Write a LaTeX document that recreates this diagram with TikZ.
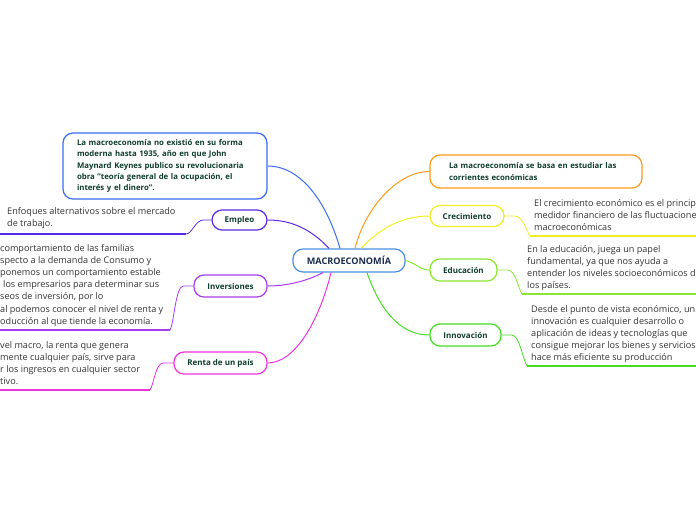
\documentclass[tikz,border=0pt]{standalone}
\usepackage{fontspec}
\setmainfont{Open Sans}
\definecolor{cblue}{HTML}{3A6CF4}
\definecolor{cindigo}{HTML}{5A2BE6}
\definecolor{cviolet}{HTML}{A93BEF}
\definecolor{cmagenta}{HTML}{EE33DD}
\definecolor{corange}{HTML}{FF9A1A}
\definecolor{cyellow}{HTML}{EEEE22}
\definecolor{clime}{HTML}{88E633}
\definecolor{cgreen}{HTML}{44DD22}
\definecolor{ccentre}{HTML}{4A8FE0}
\definecolor{labelgreen}{HTML}{0F3D2E}
\definecolor{navy}{HTML}{1C2B4E}
\definecolor{bodygray}{HTML}{333333}
\begin{document}
\begin{tikzpicture}[x=1pt, y=-1pt,
  topic/.style={draw, line width=1.2pt, rounded corners=10pt, fill=white,
    inner sep=0pt, align=center, text=labelgreen,
    font=\fontsize{8}{10}\selectfont\bfseries},
  bigtopic/.style={topic, align=left, inner xsep=14pt,
    font=\fontsize{7.8}{11.4}\selectfont\bfseries},
  note/.style={anchor=north west, inner sep=0pt, align=left, text=bodygray,
    font=\fontsize{9.1}{12.2}\selectfont},
  branch/.style={line width=1pt},
  under/.style={line width=1.8pt}]

\useasboundingbox (0,0) rectangle (696,520);

% centre
\node[topic, draw=ccentre, text=navy, minimum width=112pt, minimum height=23pt,
  font=\fontsize{9.1}{10}\selectfont\bfseries] (macro) at (349,260.5) {MACROECONOMÍA};

% left side
\node[bigtopic, draw=cblue, minimum width=204pt, minimum height=66pt, text width=176pt]
  (hist) at (165,166) {La macroeconomía no existió en su forma\\
  moderna hasta 1935, año en que John\\
  Maynard Keynes publico su revolucionaria\\
  obra "teoría general de la ocupación, el\\
  interés y el dinero".};
\node[topic, draw=cindigo, minimum width=55pt, minimum height=20pt] (empleo) at (239.5,220) {Empleo};
\node[topic, draw=cviolet, minimum width=73pt, minimum height=22pt] (inver) at (230.5,286) {Inversiones};
\node[topic, draw=cmagenta, minimum width=93pt, minimum height=22pt] (renta) at (220.5,363) {Renta de un país};

% right side
\node[bigtopic, draw=corange, minimum width=212pt, minimum height=33pt, text width=174pt,
  inner xsep=19pt] (basa) at (536,171.5) {La macroeconomía se basa en estudiar las\\
  corrientes económicas};
\node[topic, draw=cyellow, minimum width=74pt, minimum height=21pt] (crec) at (467,216) {Crecimiento};
\node[topic, draw=clime, minimum width=67pt, minimum height=22pt] (edu) at (463.5,270) {Educación};
\node[topic, draw=cgreen, minimum width=71pt, minimum height=22pt] (innov) at (465.5,335) {Innovación};

% branches from the centre
\draw[branch, corange] ([xshift=6pt]macro.north) .. controls (366,205) and (400,171) .. (basa.west);
\draw[branch, cyellow] ([xshift=12pt]macro.north) .. controls (382,226) and (405,216) .. (crec.west);
\draw[branch, cblue] ([xshift=-9pt]macro.north) .. controls (326,200) and (300,166) .. (hist.east);
\draw[branch, cindigo] ([xshift=-20pt]macro.north) .. controls (310,228) and (290,220) .. (empleo.east);
\draw[branch, cviolet] ([xshift=-26pt]macro.south) .. controls (305,282) and (285,286) .. (inver.east);
\draw[branch, cmagenta] ([xshift=-18pt]macro.south) .. controls (320,318) and (296,363) .. (renta.east);
\draw[branch, clime] (macro.east) .. controls (416,263) and (420,270) .. (edu.west);
\draw[branch, cgreen] ([xshift=18pt]macro.south) .. controls (380,310) and (400,335) .. (innov.west);

% notes on the left
\node[note] (empleotxt) at (7,207) {Enfoques alternativos sobre el mercado\\de trabajo.};
\coordinate (empleoA) at (186,234);
\coordinate (empleoB) at (0,234);
\draw[cindigo, line width=0.8pt] (empleo.west) -- ([xshift=-8pt]empleo.west) .. controls +(-8,0) and +(6,0) .. (empleoA);
\draw[under, cindigo] (empleoA) -- (empleoB);

\node[note] (invertxt) at (0,244) {comportamiento de las familias\\
  specto a la demanda de Consumo y\\
  ponemos un comportamiento estable\\
  \hspace{3pt}los empresarios para determinar sus\\
  seos de inversión, por lo\\
  al podemos conocer el nivel de renta y\\
  oducción al que tiende la economía.};
\coordinate (inverA) at (170,330);
\coordinate (inverB) at (0,330);
\draw[cviolet, line width=0.8pt] (inver.west) -- ([xshift=-10pt]inver.west) .. controls +(-8,0) and +(4,-6) .. (inverA);
\draw[under, cviolet] (inverA) -- (inverB);

\node[note] (rentatxt) at (0,341) {vel macro, la renta que genera\\
  mente cualquier país, sirve para\\
  r los ingresos en cualquier sector\\
  tivo.};
\coordinate (rentaA) at (150,390);
\coordinate (rentaB) at (0,390);
\draw[cmagenta, line width=0.8pt] (renta.west) -- ([xshift=-10pt]renta.west) .. controls +(-8,0) and +(4,-6) .. (rentaA);
\draw[under, cmagenta] (rentaA) -- (rentaB);

% notes on the right
\node[note] (crectxt) at (534,199) {El crecimiento económico es el princip\\
  medidor financiero de las fluctuacione\\
  macroeconómicas};
\coordinate (crecA) at (530,236);
\coordinate (crecB) at (696,236);
\draw[cyellow, line width=0.8pt] (crec.east) -- ([xshift=10pt]crec.east) .. controls +(8,0) and +(-4,-6) .. (crecA);
\draw[under, cyellow] (crecA) -- (crecB);

\node[note] (edutxt) at (527,245) {En la educación, juega un papel\\
  fundamental, ya que nos ayuda a\\
  entender los niveles socioeconómicos d\\
  los países.};
\coordinate (eduA) at (522,294);
\coordinate (eduB) at (696,294);
\draw[clime, line width=0.8pt] (edu.east) -- ([xshift=10pt]edu.east) .. controls +(8,0) and +(-4,-6) .. (eduA);
\draw[under, clime] (eduA) -- (eduB);

\node[note] (innovtxt) at (531,305) {Desde el punto de vista económico, un\\
  innovación es cualquier desarrollo o\\
  aplicación de ideas y tecnologías que\\
  consigue mejorar los bienes y servicios\\
  hace más eficiente su producción};
\coordinate (innovA) at (527,366);
\coordinate (innovB) at (696,366);
\draw[cgreen, line width=0.8pt] (innov.east) -- ([xshift=10pt]innov.east) .. controls +(8,0) and +(-4,-6) .. (innovA);
\draw[under, cgreen] (innovA) -- (innovB);

\end{tikzpicture}
\end{document}
